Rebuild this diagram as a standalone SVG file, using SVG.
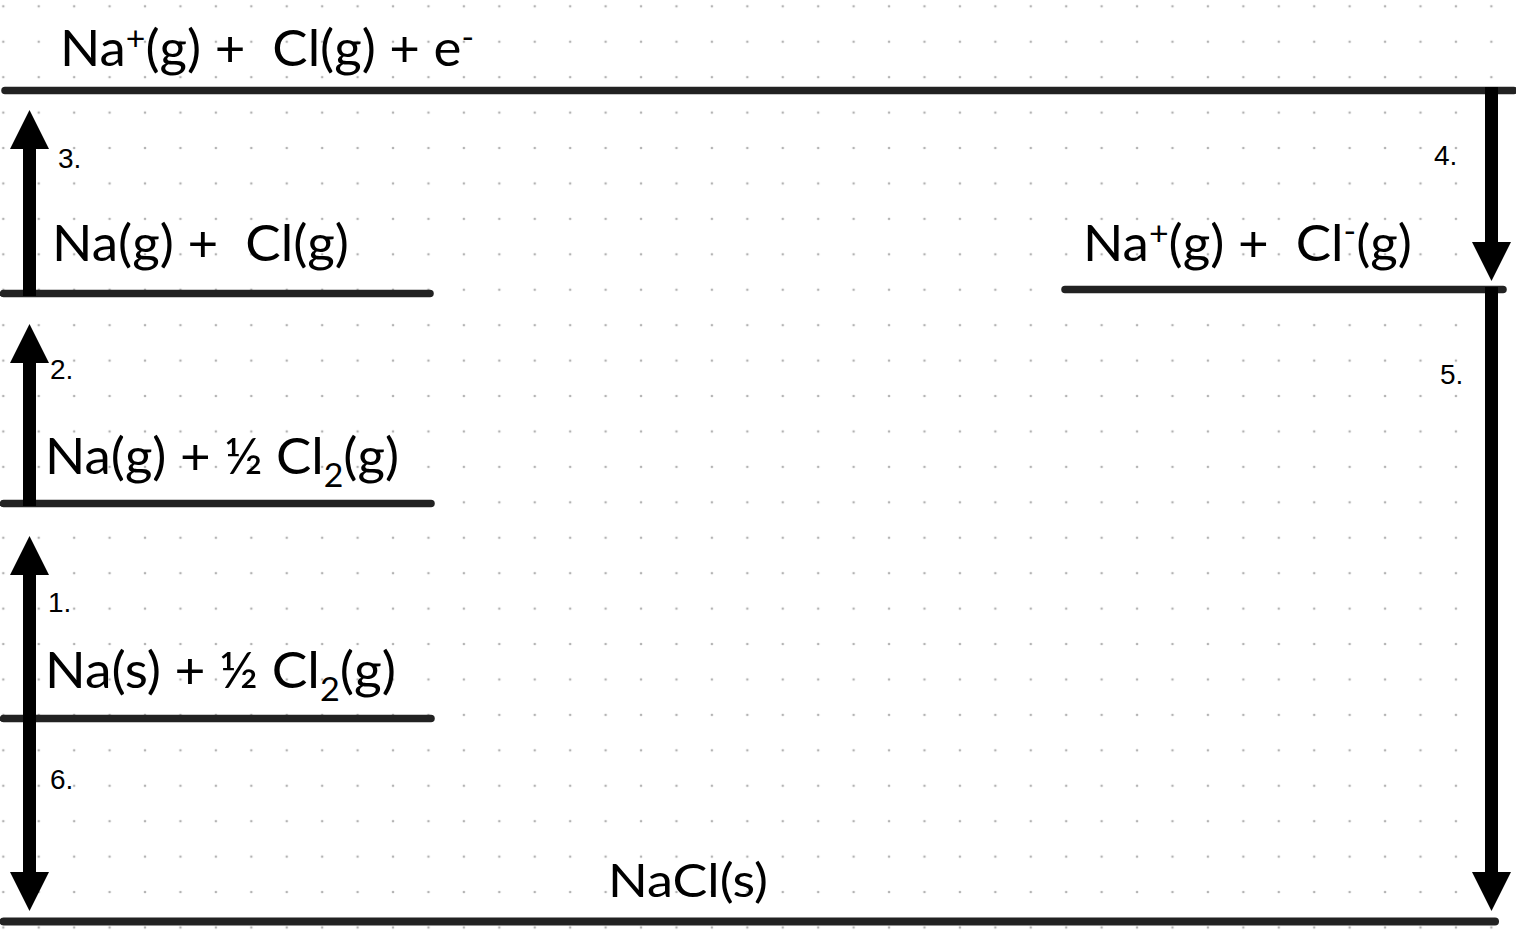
<svg xmlns="http://www.w3.org/2000/svg" width="1516" height="932" viewBox="0 0 1516 932">
  <style>
    .lvl { stroke: #222; stroke-width: 7.5; stroke-linecap: round; fill: none; }
    .sp { font-family: Lato, "Open Sans", "Liberation Sans", sans-serif; font-size: 50px; fill: #000; white-space: pre; }
    .sup { font-size: 32px; }
    .num { font-family: "Liberation Sans", Arial, sans-serif; font-size: 28px; fill: #000; }
    .arr { stroke: #000; stroke-width: 13; fill: none; marker-end: url(#head); }
  </style>
  <defs>
    <pattern id="dots" patternUnits="userSpaceOnUse" x="-14.415" y="-11.415" width="35.43" height="35.43">
      <circle cx="17.715" cy="17.715" r="1.3" fill="#b3b3b3"/>
    </pattern>
    <marker id="head" markerUnits="userSpaceOnUse" markerWidth="40" markerHeight="40" refX="0" refY="19.5" orient="auto" overflow="visible">
      <path d="M-1,0 L38,19.5 L-1,39 Z" fill="#000"/>
    </marker>
  </defs>
  <rect x="0" y="0" width="1516" height="932" fill="#fff"/>
  <rect x="0" y="0" width="1516" height="932" fill="url(#dots)"/>

  <g id="level-ions-electron">
    <line class="lvl" x1="5" y1="90.5" x2="1514" y2="90.5"/>
    <text class="sp" x="60" y="66" xml:space="preserve" textLength="414" lengthAdjust="spacingAndGlyphs">Na<tspan class="sup" dy="-16">+</tspan><tspan dy="16">(g) +  Cl(g) + e</tspan><tspan class="sup" dy="-17">-</tspan></text>
  </g>

  <g id="level-atoms-gas">
    <line class="lvl" x1="3.5" y1="293.5" x2="430" y2="293.5"/>
    <text class="sp" x="52" y="261" xml:space="preserve" textLength="297" lengthAdjust="spacingAndGlyphs">Na(g) +  Cl(g)</text>
  </g>

  <g id="level-ions-gas">
    <line class="lvl" x1="1065" y1="289.5" x2="1503" y2="289.5"/>
    <text class="sp" x="1083" y="261" xml:space="preserve" textLength="329" lengthAdjust="spacingAndGlyphs">Na<tspan class="sup" dy="-16">+</tspan><tspan dy="16">(g) +  Cl</tspan><tspan class="sup" dy="-18">-</tspan><tspan dy="18">(g)</tspan></text>
  </g>

  <g id="level-na-gas">
    <line class="lvl" x1="3.5" y1="503.5" x2="431" y2="503.5"/>
    <text class="sp" x="45" y="474" xml:space="preserve" textLength="354" lengthAdjust="spacingAndGlyphs">Na(g) + ½ Cl<tspan class="sup" dy="13">2</tspan><tspan dy="-13">(g)</tspan></text>
  </g>

  <g id="level-elements">
    <line class="lvl" x1="3.5" y1="718.5" x2="431" y2="718.5"/>
    <text class="sp" x="45" y="688" xml:space="preserve" textLength="351" lengthAdjust="spacingAndGlyphs">Na(s) + ½ Cl<tspan class="sup" dy="13">2</tspan><tspan dy="-13">(g)</tspan></text>
  </g>

  <g id="level-nacl">
    <line class="lvl" x1="3.5" y1="921.5" x2="1495" y2="921.5" style="stroke-width:8"/>
    <text class="sp" x="608" y="897" style="font-size:46px" textLength="160" lengthAdjust="spacingAndGlyphs">NaCl(s)</text>
  </g>

  <g id="connectors">
    <line class="arr" x1="29.5" y1="296" x2="29.5" y2="148"/>
    <line class="arr" x1="29.5" y1="506" x2="29.5" y2="362"/>
    <line class="arr" x1="29.5" y1="718" x2="29.5" y2="574"/>
    <line class="arr" x1="29.5" y1="716" x2="29.5" y2="873"/>
    <line class="arr" x1="1491.5" y1="87" x2="1491.5" y2="243"/>
    <line class="arr" x1="1491.5" y1="287" x2="1491.5" y2="873"/>
    <text class="num" x="58" y="168">3.</text>
    <text class="num" x="1434" y="165">4.</text>
    <text class="num" x="50" y="379">2.</text>
    <text class="num" x="1440" y="384">5.</text>
    <text class="num" x="48" y="612">1.</text>
    <text class="num" x="50" y="789">6.</text>
  </g>
</svg>
